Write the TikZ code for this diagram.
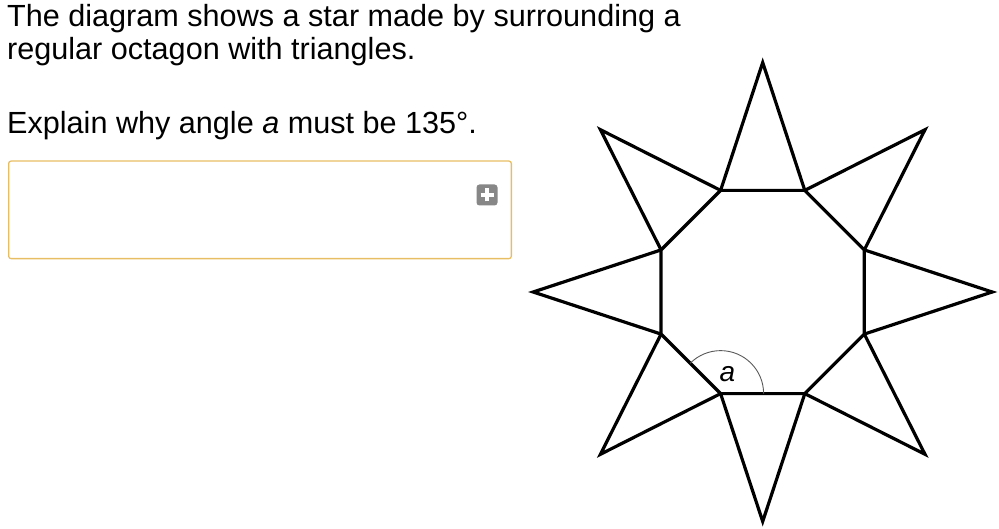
\documentclass[tikz,border=0pt]{standalone}
\usepackage{fontspec}
\setmainfont{Liberation Sans}
\usetikzlibrary{calc}
\definecolor{boxorange}{RGB}{232,190,100}
\definecolor{icongray}{RGB}{135,135,135}
\definecolor{arcgray}{RGB}{90,90,90}
\begin{document}
\begin{tikzpicture}[x=1pt,y=1pt,
  starline/.style={line width=3.2pt,line join=miter,black},
  qtext/.style={anchor=base west,inner sep=0pt,font=\fontsize{30.6}{34}\selectfont},
  answerbox/.style={draw=boxorange,line width=1.3pt,rounded corners=2.5pt,fill=white},
  plusicon/.style={fill=icongray,rounded corners=3pt,minimum size=21pt,inner sep=0pt}]
\useasboundingbox (0,0) rectangle (999,528);
% question text
\node[qtext] (l1) at (7,501.3) {The diagram shows a star made by surrounding a};
\node[qtext] (l2) at (7,468) {regular octagon with triangles.};
\node[qtext] (l3) at (7,394.5) {Explain why angle \textit{a} must be 135°.};
% answer box
\node[answerbox,minimum width=502.7pt,minimum height=97.6pt,anchor=south west] (box) at (8,268.7) {};
\node[plusicon] (plus) at (487,333) {};
\draw[white,line width=3.6pt] ($(plus.center)+(-6.5,0)$) -- ($(plus.center)+(6.5,0)$);
\draw[white,line width=3.6pt] ($(plus.center)+(0,-6.5)$) -- ($(plus.center)+(0,6.5)$);
% star
\coordinate (C) at (762.7,236);
\foreach \k in {1,...,8}{
  \coordinate (o\k) at ($(C)+({22.5+45*(\k-1)}:110)$);
  \coordinate (t\k) at ($(C)+({45*(\k-1)}:229.5)$);
}
% octagon
\draw[starline] (o1)--(o2)--(o3)--(o4)--(o5)--(o6)--(o7)--(o8)--cycle;
% triangles: tip t_k sits between o_{k-1} and o_k
\draw[starline] (o8)--(t1)--(o1);
\draw[starline] (o1)--(t2)--(o2);
\draw[starline] (o2)--(t3)--(o3);
\draw[starline] (o3)--(t4)--(o4);
\draw[starline] (o4)--(t5)--(o5);
\draw[starline] (o5)--(t6)--(o6);
\draw[starline] (o6)--(t7)--(o7);
\draw[starline] (o7)--(t8)--(o8);
% angle a at o6
\draw[arcgray,line width=0.9pt] ($(o6)+(43,0)$) arc[start angle=0,end angle=135,radius=43];
\node[font=\fontsize{28}{30}\selectfont\itshape,inner sep=0pt] (alabel) at (727.5,154) {a};
\end{tikzpicture}
\end{document}
